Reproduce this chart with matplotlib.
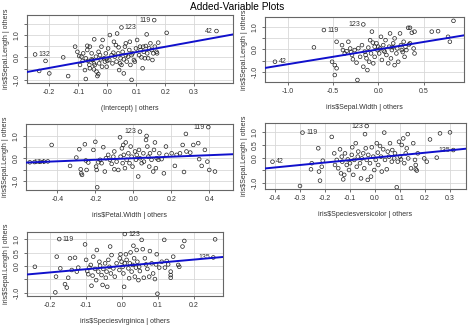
import matplotlib
matplotlib.use("Agg")
import matplotlib.pyplot as plt

plt.rcParams['font.family'] = ['Liberation Sans', 'DejaVu Sans']

# ---- panel 1: (Intercept) | others
p1_x = [-0.213, -0.235, -0.2, -0.152, -0.135, -0.111, -0.103, -0.094, -0.085, -0.083,
        -0.077, -0.074, -0.069, -0.066, -0.062, -0.06, -0.054, -0.051, -0.046, -0.043,
        -0.039, -0.037, -0.034, -0.028, -0.025, -0.02, -0.016, -0.011, -0.008, -0.005,
        -0.002, 0.003, 0.007, 0.009, 0.015, 0.018, 0.023, 0.026, 0.03, 0.032,
        0.034, 0.038, 0.041, 0.046, 0.049, 0.053, 0.057, 0.061, 0.064, 0.067,
        0.072, 0.078, 0.08, 0.084, 0.087, 0.092, 0.099, 0.103, 0.11, 0.115,
        0.122, 0.124, 0.13, 0.136, 0.138, 0.145, 0.149, 0.156, 0.164, 0.172,
        0.205, -0.069, -0.06, -0.045, -0.03, -0.023, -0.018, 0.0, 0.021, 0.039,
        0.044, 0.057, 0.064, 0.076, 0.084, 0.095, 0.113, 0.118, 0.126, 0.141,
        0.153, 0.159, 0.17, 0.176, 0.133, -0.054, -0.046, -0.031, -0.074, -0.089,
        -0.097]
p1_y = [-0.16, -0.61, -0.72, 0.0, -0.84, 0.48, 0.25, -0.34, -0.16, 0.18,
        -0.57, -0.97, 0.33, -0.16, -0.34, -0.49, 0.18, -0.12, -0.54, -0.34,
        0.03, -0.64, -0.84, -0.27, 0.1, 0.48, 0.78, -0.04, -0.19, 0.18,
        -0.42, 0.4, -0.12, 1.0, 0.1, -0.27, 0.7, 0.03, 0.55, -0.19,
        1.07, 0.18, -0.57, -0.04, -0.34, 0.25, -0.72, 0.48, 0.1, -0.19,
        0.03, 0.7, -0.34, -1.01, 0.18, -0.12, 0.4, 0.78, 0.1, 0.33,
        -0.49, 0.48, -0.04, 1.03, 0.18, 0.4, 0.63, -0.12, 0.48, 0.18,
        1.1, 0.52, 0.48, 0.81, 0.25, -0.09, -0.42, -0.15, 0.21, 0.45,
        -0.27, -0.09, 0.63, 0.33, 0.1, -0.19, 0.48, 0.0, 0.25, -0.04,
        0.33, 0.18, 0.25, 0.66, 0.51, -0.09, -0.27, -0.75, -0.04, 0.03,
        0.06]
p1_lab_x = [-0.249, 0.162, 0.049, 0.377]
p1_lab_y = [0.13, 1.67, 1.34, 1.18]
p1_lab = ["132", "119", "123", "42"]
p1_side = ["r", "l", "r", "l"]

# ---- panel 2: iris$Sepal.Width | others
p2_x = [0.83, -0.71, 0.66, 0.59, 0.77, 0.79, -0.48, -0.48, -0.46, -0.46,
        -0.51, -0.4, -0.39, -0.37, -0.33, -0.31, -0.29, -0.28, -0.26, -0.24,
        -0.23, -0.2, -0.18, -0.165, -0.15, -0.13, -0.12, -0.1, -0.09, -0.08,
        -0.07, -0.055, -0.04, -0.04, -0.02, -0.01, 0.01, 0.02, 0.03, 0.04,
        0.055, 0.07, 0.08, 0.09, 0.11, 0.12, 0.13, 0.14, 0.15, 0.165,
        0.18, 0.18, 0.2, 0.21, 0.22, 0.24, 0.25, 0.26, 0.28, 0.29,
        0.3, 0.31, 0.33, 0.35, 0.35, 0.37, 0.39, 0.4, 0.4, -0.3,
        -0.22, -0.14, -0.06, 0.0, 0.06, 0.16, 0.27, 0.34, -0.35, -0.11]
p2_y = [1.27, 0.09, 0.81, 0.79, 0.56, 0.34, -0.7, -1.14, -0.84, 0.34,
        -0.55, 0.19, -0.03, -0.18, 0.34, 0.04, -0.25, -0.44, -0.03, -0.59,
        -1.36, -0.33, 0.19, -0.77, -0.1, -0.4, -0.92, -0.55, 0.41, -0.18,
        0.79, -0.62, 0.12, -0.33, 0.27, -0.03, -0.18, 0.04, 0.56, -0.47,
        0.19, -0.1, 0.41, -0.25, -0.62, 0.12, 0.71, -0.4, -0.03, 0.27,
        -0.7, 0.49, -0.18, 0.04, -0.55, 0.71, 0.19, -0.03, 0.34, -0.33,
        0.12, -0.03, 0.96, 0.96, 0.27, 0.74, 0.04, -0.18, 0.79, -0.12,
        0.05, -0.25, 0.3, 0.12, -0.05, 0.1, -0.12, 0.22, -0.08, 0.08]
p2_lab_x = [-1.14, -0.6, -0.165]
p2_lab_y = [-0.55, 0.86, 1.11]
p2_lab = ["42", "119", "123"]
p2_side = ["r", "r", "l"]

# ---- panel 3: iris$Petal.Width | others
p3_x = [-0.43, -0.333, -0.3, -0.284, -0.255, -0.277, -0.274, -0.27, -0.25, -0.246,
        -0.237, -0.21, -0.2, -0.196, -0.193, -0.19, -0.184, -0.175, -0.167, -0.158,
        -0.15, -0.144, -0.132, -0.123, -0.114, -0.105, -0.1, -0.1, -0.088, -0.079,
        -0.07, -0.067, -0.06, -0.056, -0.053, -0.05, -0.044, -0.04, -0.035, -0.026,
        -0.02, -0.014, -0.009, -0.004, 0.009, 0.014, 0.018, 0.026, 0.03, 0.035,
        0.044, 0.053, 0.056, 0.067, 0.07, 0.074, 0.079, 0.084, 0.088, 0.096,
        0.105, 0.109, 0.114, 0.119, 0.123, 0.132, 0.137, 0.149, 0.161, 0.172,
        0.175, 0.202, 0.219, 0.228, 0.246, 0.26, 0.267, 0.277, 0.28, 0.3,
        0.316, 0.342, 0.347, 0.36, 0.377, 0.39, 0.4, 0.43, -0.52, -0.49,
        -0.47, -0.45]
p3_y = [0.59, -0.34, 0.03, 0.4, 0.62, -0.49, -0.67, -0.74, -0.1, -0.52,
        -0.19, 0.37, 0.73, -0.37, -0.52, -1.29, -0.18, -0.07, -0.22, 0.49,
        -0.59, 0.0, 0.15, -0.07, -0.25, 0.07, -0.49, 0.3, -0.15, -0.52,
        0.93, 0.07, 0.44, -0.22, 0.59, 0.15, -0.44, 0.7, -0.07, 0.22,
        -0.22, 0.52, 0.07, -0.37, 0.3, -0.07, 0.15, -0.81, 0.37, 0.0,
        -0.22, 0.22, -0.15, 0.81, 0.99, 0.52, 0.07, -0.37, 0.22, -0.07,
        -0.59, 0.37, 0.7, -0.44, 0.0, -0.07, 0.22, -0.04, -0.67, 0.52,
        0.15, 0.22, -0.34, 0.15, 0.22, 0.59, -0.61, 1.08, 0.3, 0.25,
        0.59, 0.67, -0.04, -0.34, 0.37, -0.15, -0.52, -0.59, -0.17, -0.16,
        -0.15, -0.14]
p3_lab_x = [-0.545, 0.035, 0.395]
p3_lab_y = [-0.18, 1.18, 1.38]
p3_lab = ["134", "123", "119"]
p3_side = ["r", "l", "l"]

# ---- panel 4: iris$Speciesversicolor | others
p4_x = [-0.3, -0.256, -0.253, -0.227, -0.224, -0.22, -0.213, -0.209, -0.173, -0.163,
        -0.16, -0.153, -0.147, -0.14, -0.136, -0.133, -0.131, -0.127, -0.123, -0.12,
        -0.113, -0.109, -0.104, -0.1, -0.093, -0.091, -0.087, -0.083, -0.077, -0.073,
        -0.069, -0.067, -0.06, -0.056, -0.053, -0.047, -0.043, -0.04, -0.037, -0.033,
        -0.029, -0.027, -0.02, -0.016, -0.013, -0.007, -0.003, 0.003, 0.007, 0.011,
        0.013, 0.02, 0.024, 0.027, 0.033, 0.037, 0.04, 0.047, 0.051, 0.056,
        0.06, 0.067, 0.069, 0.077, 0.08, 0.087, 0.091, 0.096, 0.1, 0.104,
        0.107, 0.113, 0.117, 0.123, 0.127, 0.131, 0.133, 0.144, 0.153, 0.16,
        0.163, 0.163, 0.167, 0.171, 0.197, 0.207, 0.22, 0.247, 0.26, 0.3]
p4_y = [-1.12, -0.46, -0.22, 0.37, -0.55, -0.91, -0.36, -0.12, 0.82, 0.17,
        -0.29, -0.09, -0.42, 0.33, -0.62, 0.04, -0.16, -0.86, -0.68, 0.17,
        -0.29, -0.07, -0.49, -0.22, 0.11, 0.41, -0.68, -0.09, 0.57, -0.36,
        0.04, 0.24, -0.22, -0.82, -0.03, 0.17, -0.42, 0.93, 0.37, -0.09,
        -0.88, 0.11, -0.22, -0.75, 0.41, 0.04, -0.49, -0.09, 0.57, 0.2,
        -0.29, 0.46, 0.04, -0.55, 0.33, 0.99, -0.09, -0.46, 0.24, 0.04,
        0.57, -0.16, 0.3, -0.03, 0.17, -1.17, -0.16, 0.63, 0.04, -0.07,
        0.5, 0.76, -0.22, 0.17, 0.37, 0.93, -0.03, -0.42, 0.57, -0.09,
        -0.29, -0.46, -0.51, 0.17, -0.03, -0.16, 0.72, 0.0, 0.96, 1.0]
p4_lab_x = [-0.41, -0.29, -0.033, 0.313]
p4_lab_y = [-0.16, 0.99, 1.25, 0.3]
p4_lab = ["42", "119", "123", "135"]
p4_side = ["r", "r", "l", "l"]

# ---- panel 5: iris$Speciesvirginica | others
p5_x = [-0.243, -0.186, -0.184, -0.182, -0.172, -0.159, -0.154, -0.15, -0.145, -0.14,
        -0.131, -0.126, -0.122, -0.103, -0.1, -0.097, -0.094, -0.091, -0.087, -0.085,
        -0.082, -0.08, -0.075, -0.072, -0.07, -0.066, -0.063, -0.061, -0.057, -0.054,
        -0.052, -0.047, -0.045, -0.043, -0.041, -0.038, -0.035, -0.033, -0.031, -0.029,
        -0.024, -0.02, -0.015, -0.007, -0.006, -0.004, -0.001, 0.002, 0.004, 0.006,
        0.008, 0.011, 0.013, 0.018, 0.02, 0.022, 0.024, 0.027, 0.03, 0.032,
        0.034, 0.036, 0.039, 0.041, 0.043, 0.046, 0.048, 0.05, 0.055, 0.058,
        0.061, 0.064, 0.067, 0.071, 0.076, 0.078, 0.083, 0.087, 0.092, 0.095,
        0.097, 0.099, 0.104, 0.111, 0.118, 0.12, 0.125, 0.129, 0.136, 0.136,
        0.136, 0.143, 0.157, 0.16, 0.169, 0.174, 0.26]
p5_y = [-0.03, -0.99, -0.4, 0.35, -0.09, -0.68, -0.81, -0.44, 0.29, -0.15,
        0.31, -0.21, -0.06, 0.81, 0.23, -0.19, -0.31, -0.06, 0.04, -0.74,
        -0.36, 0.35, -0.11, -0.53, 0.6, -0.21, 0.16, 0.01, -0.34, -0.71,
        -0.11, 0.1, -0.44, -0.21, -0.78, 0.23, -0.03, 0.73, -0.28, 0.41,
        -0.09, -0.4, 0.1, -0.15, 0.29, 0.44, 0.16, -0.03, -0.28, -0.78,
        0.1, 0.44, 0.23, -0.09, -0.46, 0.1, 0.51, -0.21, 0.04, 0.76,
        0.29, -0.4, -0.06, 0.6, 0.16, -0.53, -0.03, -0.19, 0.98, 0.63,
        -0.44, 0.29, 0.06, -0.11, -0.4, 0.56, 0.1, -0.28, -0.49, 0.06,
        0.44, -1.04, -0.06, 0.16, 0.98, -0.06, 0.19, 0.06, -0.21, -0.34,
        -0.44, 0.35, 0.04, -0.03, 0.73, 0.94, 1.0]
p5_lab_x = [-0.175, 0.008, 0.255]
p5_lab_y = [1.01, 1.2, 0.32]
p5_lab = ["119", "123", "135"]
p5_side = ["r", "r", "l"]

slopes = [2.37, 0.66, 0.34, 0.97, 1.2]
xlabels = ["(Intercept) | others", "iris$Sepal.Width | others", "iris$Petal.Width | others",
           "iris$Speciesversicolor | others", "iris$Speciesvirginica | others"]
ylabel = "iris$Sepal.Length | others"

W, H = 474, 327
fig = plt.figure(figsize=(W / 100, H / 100), dpi=100)
fig.text(0.5, 1 - 7 / H, "Added-Variable Plots", ha="center", va="center", fontsize=7.3)

# pixel boxes (left, right, top, bottom) and axis settings
boxes = [(27, 233, 15, 83), (265, 464, 17, 82), (26, 233, 124, 190),
         (265, 466, 123, 189), (27, 223, 232, 296)]
xlims = [(-0.277, 0.434), (-1.25, 0.946), (-0.565, 0.525), (-0.44, 0.364), (-0.265, 0.282)]
ylims = [(-1.15, 1.9), (-1.45, 1.44), (-1.41, 1.52), (-1.24, 1.37), (-1.125, 1.275)]
xticks = [[-0.2, -0.1, 0.0, 0.1, 0.2, 0.3], [-1.0, -0.5, 0.0, 0.5], [-0.4, -0.2, 0.0, 0.2, 0.4],
          [-0.4, -0.3, -0.2, -0.1, 0.0, 0.1, 0.2, 0.3], [-0.2, -0.1, 0.0, 0.1, 0.2]]
yticks = [[-1.0, -0.5, 0.0, 0.5, 1.0, 1.5], [-1.0, -0.5, 0.0, 0.5, 1.0], [-1.0, -0.5, 0.0, 0.5, 1.0],
          [-1.0, -0.5, 0.0, 0.5, 1.0], [-1.0, -0.5, 0.0, 0.5, 1.0]]
yshow = [[-1.0, 0.0, 1.0], [-1.0, 0.0, 1.0], [-1.0, 0.0, 1.0],
         [-1.0, 0.0, 0.5, 1.0], [-1.0, 0.0, 0.5, 1.0]]

panels = [(p1_x, p1_y, p1_lab_x, p1_lab_y, p1_lab, p1_side),
          (p2_x, p2_y, p2_lab_x, p2_lab_y, p2_lab, p2_side),
          (p3_x, p3_y, p3_lab_x, p3_lab_y, p3_lab, p3_side),
          (p4_x, p4_y, p4_lab_x, p4_lab_y, p4_lab, p4_side),
          (p5_x, p5_y, p5_lab_x, p5_lab_y, p5_lab, p5_side)]

for i, (px, py, lx, ly, lt, ls) in enumerate(panels):
    l, r, t, b = boxes[i]
    ax = fig.add_axes([l / W, 1 - b / H, (r - l) / W, (b - t) / H])
    ax.set_xlim(*xlims[i])
    ax.set_ylim(*ylims[i])
    ax.set_xticks(xticks[i])
    ax.set_xticklabels(["%.1f" % v for v in xticks[i]])
    ax.set_yticks(yticks[i])
    ax.set_yticklabels(["%.1f" % v if v in yshow[i] else "" for v in yticks[i]],
                       rotation=90, va="center")
    ax.grid(True, color="#d8d8d8", lw=0.6)
    ax.set_axisbelow(True)
    ax.tick_params(labelsize=5, length=2.5, width=0.5, pad=2, colors="#333333")
    for s in ax.spines.values():
        s.set_color("#666666")
        s.set_linewidth(0.8)
    ax.scatter(px + lx, py + ly, s=7, facecolors="none", edgecolors="#222222", linewidths=0.5, zorder=3)
    ax.axline((0, 0), slope=slopes[i], color="#1010cc", lw=1.4, zorder=4)
    for x, y, txt, side in zip(lx, ly, lt, ls):
        ax.annotate(txt, (x, y), xytext=(2.5 if side == "r" else -2.5, 0), textcoords="offset points",
                    ha="left" if side == "r" else "right", va="center", fontsize=5, color="#333333")
    ax.set_xlabel(xlabels[i].replace("$", r"\$"), fontsize=5, labelpad=6, color="#333333")
    ax.set_ylabel(ylabel.replace("$", r"\$"), fontsize=5, labelpad=3, color="#333333")

fig.savefig("out.png", dpi=100)
